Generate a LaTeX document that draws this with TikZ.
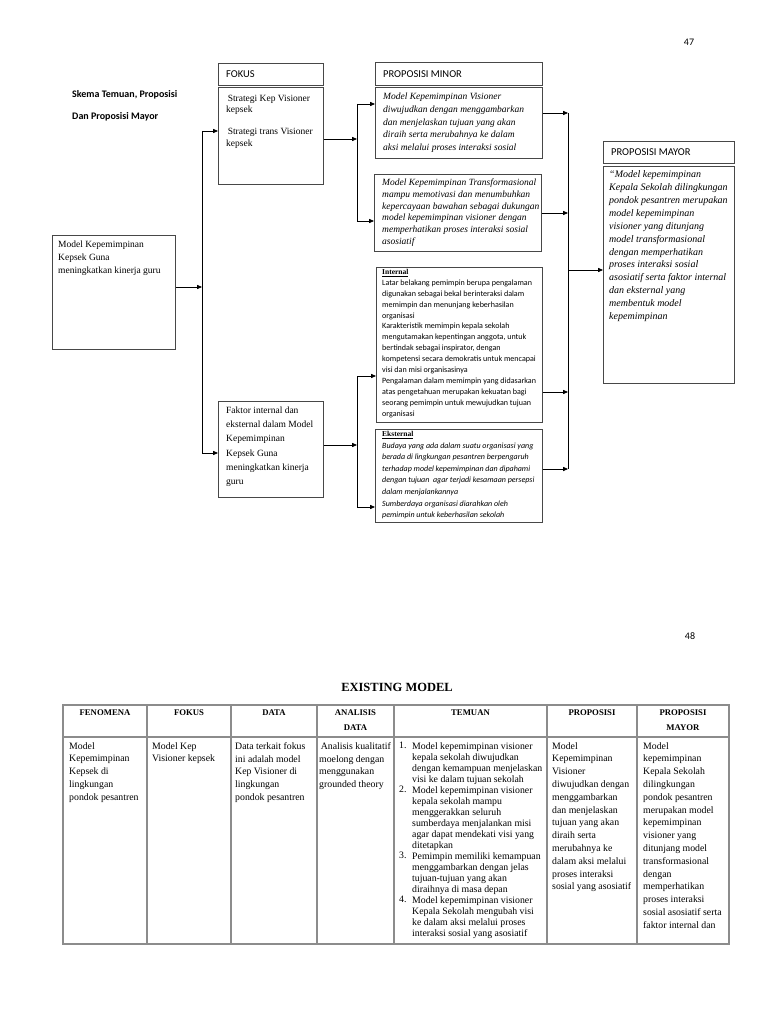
\documentclass[tikz,border=0pt]{standalone}
\usepackage{fontspec}
\setmainfont{Liberation Serif}
\newfontfamily\sansc{Carlito}
\usetikzlibrary{arrows.meta}
\tikzset{
 box/.style={draw=black!72, line width=0.9pt, anchor=north west, inner sep=0pt},
 txt/.style={anchor=north west, inner sep=0pt, align=left, text=black},
 hdr/.style={txt, anchor=west, font=\sansc\fontsize{10.5}{12}\selectfont},
 body/.style={txt, font=\fontsize{9.5}{13}\selectfont},
 ital/.style={txt, font=\itshape\fontsize{9.5}{11.7}\selectfont},
 small/.style={txt, font=\sansc\fontsize{8.05}{10.9}\selectfont},
 link/.style={line width=0.8pt},
 arr/.style={link, -{Triangle[length=5pt,width=4.2pt]}},
 tbl/.style={draw=black!45, line width=1.2pt},
 tb/.style={txt, font=\fontsize{9.8}{12.8}\selectfont},
 th/.style={anchor=center, inner sep=0pt, align=center, font=\bfseries\fontsize{8.7}{14.5}\selectfont},
}
\begin{document}
\begin{tikzpicture}[x=1pt,y=-1pt]
\fill[white] (0,0) rectangle (768,1024);
\useasboundingbox (0,0) rectangle (768,1024);

% ---------- page 47 ----------
\node[txt, anchor=center, font=\sansc\fontsize{10}{12}\selectfont] (p47) at (689,42) {47};
\node[txt, anchor=west, font=\sansc\bfseries\fontsize{10}{12}\selectfont] (sk1) at (72,95) {Skema Temuan, Proposisi};
\node[txt, anchor=west, font=\sansc\bfseries\fontsize{10}{12}\selectfont] (sk2) at (72,117) {Dan Proposisi Mayor};

% FOKUS
\node[box, minimum width=105pt, minimum height=22pt] (fokh) at (218,63) {};
\node[hdr] (fokhT) at (226,74) {FOKUS};
\node[box, minimum width=105pt, minimum height=97pt] (fok) at (218,87) {};
\node[txt, font=\fontsize{9.5}{11.8}\selectfont] (fokT) at (226,94.7) {\,Strategi Kep Visioner\\kepsek\\[10pt]\,Strategi trans Visioner\\kepsek};

% PROPOSISI MINOR
\node[box, minimum width=167pt, minimum height=23pt] (minh) at (375,62) {};
\node[hdr] (minhT) at (383,74) {PROPOSISI MINOR};
\node[box, minimum width=167pt, minimum height=71pt] (box1) at (375,87) {};
\node[txt, font=\itshape\fontsize{9.5}{12.8}\selectfont] (box1T) at (383,92.7) {Model Kepemimpinan Visioner\\diwujudkan dengan menggambarkan\\dan menjelaskan tujuan yang akan\\diraih serta merubahnya ke dalam\\aksi melalui proses interaksi sosial};
\node[box, minimum width=167pt, minimum height=77pt] (box2) at (374,174) {};
\node[txt, font=\itshape\fontsize{9.5}{11.8}\selectfont] (box2T) at (382,178.7) {Model Kepemimpinan Transformasional\\mampu memotivasi dan menumbuhkan\\kepercayaan bawahan sebagai dukungan\\model kepemimpinan visioner dengan\\memperhatikan proses interaksi sosial\\asosiatif};

% PROPOSISI MAYOR
\node[box, minimum width=131pt, minimum height=22pt] (mayh) at (603,141) {};
\node[hdr] (mayhT) at (611,152) {PROPOSISI MAYOR};
\node[box, minimum width=131pt, minimum height=217pt] (may) at (603,166) {};
\node[txt, font=\itshape\fontsize{10}{12.9}\selectfont] (mayT) at (609,170.5) {``Model kepemimpinan\\Kepala Sekolah dilingkungan\\pondok pesantren merupakan\\model kepemimpinan\\visioner yang ditunjang\\model transformasional\\dengan memperhatikan\\proses interaksi sosial\\asosiatif serta faktor internal\\dan eksternal yang\\membentuk model\\kepemimpinan};

% left boxes
\node[box, minimum width=123pt, minimum height=114pt] (lbox) at (52,235) {};
\node[body] (lboxT) at (58,240.7) {Model Kepemimpinan\\Kepsek Guna\\meningkatkan kinerja guru};
\node[box, minimum width=105pt, minimum height=96pt] (fak) at (218,401) {};
\node[txt, font=\fontsize{9.5}{14.2}\selectfont] (fakT) at (226,406.7) {Faktor internal dan\\eksternal dalam Model\\Kepemimpinan\\Kepsek Guna\\meningkatkan kinerja\\guru};

% Internal / Eksternal
\node[box, minimum width=166pt, minimum height=155pt] (int) at (376,267) {};
\node[small] (intT) at (382,269) {{\rmfamily\bfseries\fontsize{7.5}{9}\selectfont\underline{Internal}}\\Latar belakang pemimpin berupa pengalaman\\digunakan sebagai bekal berinteraksi dalam\\memimpin dan menunjang keberhasilan\\organisasi\\Karakteristik memimpin kepala sekolah\\mengutamakan kepentingan anggota, untuk\\bertindak sebagai inspirator, dengan\\kompetensi secara demokratis untuk mencapai\\visi dan misi organisasinya\\Pengalaman dalam memimpin yang didasarkan\\atas pengetahuan merupakan kekuatan bagi\\seorang pemimpin untuk mewujudkan tujuan\\organisasi};
\node[box, minimum width=167pt, minimum height=93pt] (eks) at (375,429) {};
\node[txt, font=\sansc\itshape\fontsize{8}{11.6}\selectfont] (eksT) at (382,431) {{\rmfamily\upshape\bfseries\fontsize{7.5}{9}\selectfont\underline{Eksternal}}\\Budaya yang ada dalam suatu organisasi yang\\berada di lingkungan pesantren berpengaruh\\terhadap model kepemimpinan dan dipahami\\dengan tujuan\ \ agar terjadi kesamaan persepsi\\dalam menjalankannya\\Sumberdaya organisasi diarahkan oleh\\pemimpin untuk keberhasilan sekolah};

% junctions
\coordinate (jA) at (202,287);
\coordinate (jAt) at (202,131);
\coordinate (jAb) at (202,453);
\coordinate (jB) at (357,139);
\coordinate (jBt) at (357,104);
\coordinate (jBb) at (357,221);
\coordinate (jC) at (357,445);
\coordinate (jCt) at (357,376);
\coordinate (jCb) at (357,507);
\coordinate (jD1) at (568,113);
\coordinate (jD2) at (568,213);
\coordinate (jD3) at (568,392);
\coordinate (jD4) at (568,469);
\coordinate (jDm) at (568,270);

\draw[arr] (lbox.east |- jA) -- (jA);
\draw[link] (jAt) -- (jAb);
\draw[arr] (jAt) -- (jAt -| fok.west);
\draw[arr] (jAb) -- (jAb -| fak.west);
\draw[arr] (fok.east |- jB) -- (jB);
\draw[link] (jBt) -- (jBb);
\draw[arr] (jBt) -- (jBt -| box1.west);
\draw[arr] (jBb) -- (jBb -| box2.west);
\draw[arr] (fak.east |- jC) -- (jC);
\draw[link] (jCt) -- (jCb);
\draw[arr] (jCt) -- (jCt -| int.west);
\draw[arr] (jCb) -- (jCb -| eks.west);
\draw[arr] (box1.east |- jD1) -- (jD1);
\draw[arr] (box2.east |- jD2) -- (jD2);
\draw[arr] (int.east |- jD3) -- (jD3);
\draw[arr] (eks.east |- jD4) -- (jD4);
\draw[link] (jD1) -- (jD4);
\draw[arr] (jDm) -- (jDm -| may.west);

% ---------- page 48 ----------
\node[txt, anchor=center, font=\sansc\fontsize{10}{12}\selectfont] (p48) at (690,636) {48};
\node[anchor=center, inner sep=0pt, font=\bfseries\fontsize{12.5}{14}\selectfont] (title) at (397,687) {EXISTING MODEL};

\draw[tbl] (63,705) rectangle (729,944);
\draw[tbl] (63,737) -- (729,737);
\foreach \cx in {147,231,317,394,547,637} { \draw[tbl] (\cx,705) -- (\cx,944); }

\node[th] (hFen) at (105,713) {FENOMENA};
\node[th] (hFok) at (189,713) {FOKUS};
\node[th] (hDat) at (274,713) {DATA};
\node[th] (hAna) at (355.5,720) {ANALISIS\\DATA};
\node[th] (hTem) at (470.5,713) {TEMUAN};
\node[th] (hPro) at (592,713) {PROPOSISI};
\node[th] (hMay) at (683,720) {PROPOSISI\\MAYOR};

\node[tb] (cFen) at (69,742.1) {Model\\Kepemimpinan\\Kepsek di\\lingkungan\\pondok pesantren};
\node[tb] (cFok) at (152,742.1) {Model Kep\\Visioner kepsek};
\node[tb] (cDat) at (235,742.1) {Data terkait fokus\\ini adalah model\\Kep Visioner di\\lingkungan\\pondok pesantren};
\node[tb] (cAna) at (319,742.1) {\,Analisis kualitatif\\moelong dengan\\menggunakan\\grounded theory};

\tikzset{tm/.style={txt, font=\fontsize{9.8}{11}\selectfont}}
\node[tm] (n1) at (399,742.1) {1.};
\node[tm] (t1) at (412,742.1) {Model kepemimpinan visioner\\kepala sekolah diwujudkan\\dengan kemampuan menjelaskan\\visi ke dalam tujuan sekolah};
\node[tm] (n2) at (399,786.1) {2.};
\node[tm] (t2) at (412,786.1) {Model kepemimpinan visioner\\kepala sekolah mampu\\menggerakkan seluruh\\sumberdaya menjalankan misi\\agar dapat mendekati visi yang\\ditetapkan};
\node[tm] (n3) at (399,852.1) {3.};
\node[tm] (t3) at (412,852.1) {Pemimpin memiliki kemampuan\\menggambarkan dengan jelas\\tujuan-tujuan yang akan\\diraihnya di masa depan};
\node[tm] (n4) at (399,896.1) {4.};
\node[tm] (t4) at (412,896.1) {Model kepemimpinan visioner\\Kepala Sekolah mengubah visi\\ke dalam aksi melalui proses\\interaksi sosial yang asosiatif};

\node[tb] (cPro) at (552,742.1) {Model\\Kepemimpinan\\Visioner\\diwujudkan dengan\\menggambarkan\\dan menjelaskan\\tujuan yang akan\\diraih serta\\merubahnya ke\\dalam aksi melalui\\proses interaksi\\sosial yang asosiatif};
\node[tb] (cMay) at (643,742.1) {Model\\kepemimpinan\\Kepala Sekolah\\dilingkungan\\pondok pesantren\\merupakan model\\kepemimpinan\\visioner yang\\ditunjang model\\transformasional\\dengan\\memperhatikan\\proses interaksi\\sosial asosiatif serta\\faktor internal dan};
\end{tikzpicture}
\end{document}
